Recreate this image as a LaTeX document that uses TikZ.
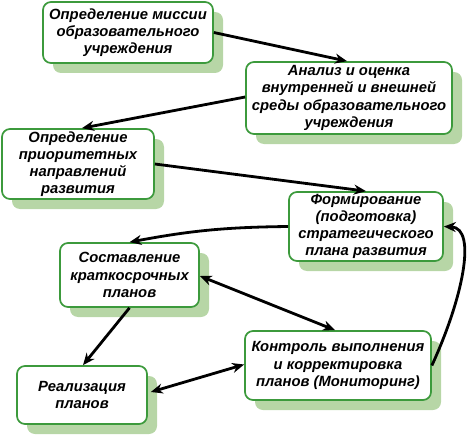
\documentclass[tikz,border=0pt]{standalone}
\usepackage{fontspec}
\setmainfont{Liberation Sans}
\usetikzlibrary{arrows.meta, shadows}
\definecolor{boxgreen}{HTML}{3C9A3C}
\definecolor{shadegreen}{HTML}{B7D6A6}
\tikzset{stage/.style={draw=boxgreen, line width=1.7pt, fill=white, rounded corners=8pt, align=center,
            inner sep=1pt, font=\fontsize{14.8}{17.2}\selectfont\bfseries\itshape,
            drop shadow={shadow xshift=10pt, shadow yshift=-10pt, fill=shadegreen, opacity=1}},
        link/.style={line width=2.8pt, -{Stealth[length=12pt, width=10pt]}},
        dlink/.style={line width=2.8pt, {Stealth[length=12pt, width=10pt]}-{Stealth[length=12pt, width=10pt]}}}

\begin{document}
\begin{tikzpicture}[x=1pt, y=-1pt]
    \useasboundingbox (0,0) rectangle (474,436);

    % stages of the planning cycle
    \node[stage, minimum width=170pt, minimum height=61pt] (mis) at (128,32.5)
      {Определение миссии\\образовательного\\учреждения};
    \node[stage, minimum width=206pt, minimum height=72pt] (ana) at (349,98)
      {Анализ и оценка\\внутренней и внешней\\среды образовательного\\учреждения};
    \node[stage, minimum width=152pt, minimum height=70pt] (pri) at (78,164)
      {Определение\\приоритетных\\направлений\\развития};
    \node[stage, minimum width=154pt, minimum height=69pt] (frm) at (366,226.5)
      {Формирование\\(подготовка)\\стратегического\\плана развития};
    \node[stage, minimum width=139pt, minimum height=64pt] (sos) at (129.5,275)
      {Составление\\краткосрочных\\планов};
    \node[stage, minimum width=186pt, minimum height=69pt] (kon) at (338,365.5)
      {Контроль выполнения\\и корректировка\\планов (Мониторинг)};
    \node[stage, minimum width=130pt, minimum height=58pt] (rea) at (82,395)
      {Реализация\\планов};

    % connectors
    \draw[link] (mis.east) -- ([xshift=-2pt]ana.north);
    \draw[link] ([yshift=1pt]ana.west) -- ([xshift=4pt]pri.north);
    \draw[link] (pri.east) -- (frm.north);
    \draw[link] (frm.west) to[bend right=5] (sos.north);
    \draw[dlink] ([yshift=-1pt]sos.east) -- ([xshift=-3pt]kon.north);
    \draw[link] (sos.south) -- ([xshift=1pt]rea.north);
    \draw[dlink] ([xshift=3pt,yshift=3pt]rea.east) -- ([yshift=1pt]kon.west);
    \draw[link] (kon.east) .. controls (462,300) and (478,228) .. (frm.east);
\end{tikzpicture}
\end{document}
